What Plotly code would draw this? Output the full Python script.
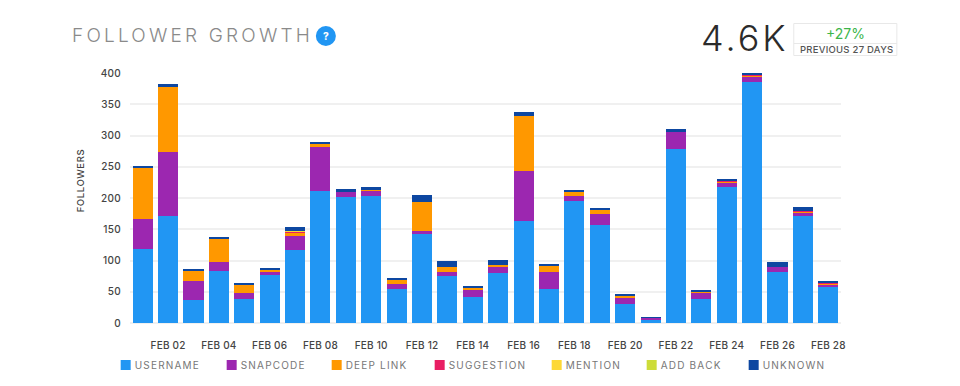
import plotly.graph_objects as go

days = [f"FEB {d:02d}" for d in range(1, 29)]
tick_labels = [f"FEB {d:02d}" for d in range(2, 29, 2)]
y_ticks = [0, 50, 100, 150, 200, 250, 300, 350, 400]

username   = [118,172,37,84,39,78,117,212,202,203,55,142,76,41,80,163,55,196,157,30,6,278,39,218,386,82,171,58]
snapcode   = [48,101,30,14,9,3,23,71,8,9,8,5,5,13,9,80,26,8,17,10,2,28,9,7,8,7,5,4]
deep_link  = [82,105,17,37,14,4,5,3,0,2,6,47,8,3,4,89,10,6,7,3,0,0,3,2,2,0,2,1]
suggestion = [0,0,0,0,0,0,1,0,0,0,0,0,0,0,0,0,0,0,0,0,0,0,0,1,1,0,1,1]
mention    = [0,0,0,0,0,0,1,0,0,0,0,0,0,0,0,0,0,0,0,0,0,0,0,0,0,0,0,1]
add_back   = [0,0,0,0,0,0,0,0,0,0,0,0,0,0,0,0,0,0,0,0,0,0,0,0,0,0,0,0]
unknown    = [2,5,3,2,2,3,6,4,4,3,2,11,11,2,8,6,4,2,2,4,1,4,2,2,3,9,7,3]

series = [
    ("USERNAME", username, "#2196F3"),
    ("SNAPCODE", snapcode, "#9C27B0"),
    ("DEEP LINK", deep_link, "#FF9800"),
    ("SUGGESTION", suggestion, "#E91E63"),
    ("MENTION", mention, "#FDD835"),
    ("ADD BACK", add_back, "#CDDC39"),
    ("UNKNOWN", unknown, "#0D47A1"),
]

W, H = 960, 386
L, R, T, B = 130.3, 840.7, 73, 323
FONT = "Inter, Lato, sans-serif"

def px(x): return (x - L) / (R - L)
def py(y): return (B - y) / (B - T)

def note(text, x, y, size, color, weight=400, **kw):
    return dict(text=text, xref="paper", yref="paper", x=px(x), y=py(y), xanchor="center", yanchor="middle",
                showarrow=False, font=dict(family=FONT, size=size, color=color, weight=weight), **kw)

fig = go.Figure()
for name, vals, color in series:
    fig.add_bar(x=days, y=vals, name=name, marker=dict(color=color, line=dict(width=0)))

fig.update_layout(
    width=W, height=H, autosize=False, barmode="stack", bargap=0.21,
    margin=dict(l=L, r=W - R, t=T, b=H - B, autoexpand=False),
    paper_bgcolor="white", plot_bgcolor="white", hovermode=False,
    font=dict(family=FONT, color="#444444", size=10),
    xaxis=dict(type="category", categoryorder="array", categoryarray=days, range=[-0.5, 27.5],
               tickmode="array", tickvals=tick_labels, ticktext=tick_labels, showgrid=False,
               showline=False, ticks="", ticklabelstandoff=15,
               tickfont=dict(family=FONT, size=10, color="#444444", weight=500)),
    yaxis=dict(range=[0, 400], tickmode="array", tickvals=y_ticks, showgrid=True, gridcolor="#F0F0F0",
               gridwidth=1.5, zeroline=True, zerolinecolor="#F0F0F0", zerolinewidth=1.5, ticks="",
               ticklabelstandoff=8, tickfont=dict(family=FONT, size=10, color="#444444", weight=500)),
    legend=dict(orientation="h", x=px(106), xanchor="left", y=py(365), yanchor="middle", traceorder="normal",
                entrywidth=60.5, entrywidthmode="pixels", itemclick=False, itemdoubleclick=False,
                font=dict(family=FONT, size=10, color="#777777"), bgcolor="rgba(0,0,0,0)"),
    shapes=[
        dict(type="circle", xref="paper", yref="paper", x0=px(316), x1=px(336), y0=py(46), y1=py(26),
             fillcolor="#2196F3", line=dict(width=0)),
        dict(type="rect", xref="paper", yref="paper", x0=px(793.5), x1=px(896.5), y0=py(55.5), y1=py(23.5),
             fillcolor="white", line=dict(width=1, color="#E8E8E8")),
        dict(type="line", xref="paper", yref="paper", x0=px(793.5), x1=px(896.5), y0=py(43.5), y1=py(43.5),
             line=dict(width=1, color="#E8E8E8")),
    ],
    annotations=[
        note("FOLLOWER GROWTH", 192.5, 35.5, 19, "#8A8A8A", 300),
        note("?", 326, 36, 10, "white", 800),
        note("4.6K", 745, 38, 36, "#2B2B2B", 300),
        note("+27%", 845, 33, 14, "#3CB54A"),
        note("PREVIOUS 27 DAYS", 846, 50, 9.5, "#555555", 500),
        note("FOLLOWERS", 80, 181, 9.5, "#444444", 500, textangle=-90),
    ],
)

post = """
document.body.style.margin = '0';
var styl = document.createElement('style');
styl.textContent = ".legendtext{letter-spacing:1.2px} .xtick text{letter-spacing:.2px} .ytick text{letter-spacing:.3px}";
document.head.appendChild(styl);
var spacing = {'FOLLOWER GROWTH':'3.2px', '4.6K':'3px', 'PREVIOUS 27 DAYS':'.25px', 'FOLLOWERS':'.6px'};
document.querySelectorAll('.annotation-text').forEach(function(t){
  if (spacing[t.textContent]) t.style.letterSpacing = spacing[t.textContent];
});
document.querySelectorAll('.legendtext').forEach(function(t){ t.setAttribute('x', '29'); });
document.querySelectorAll('.legend .legendundefined, .legend .legendbar path, .legend .legendpoints path').forEach(function(p){
  p.setAttribute('d', 'M5,5H-5V-5H5Z');
});
var swatchLeft = [120, 226, 331, 434, 551, 646, 748];
document.querySelectorAll('.legend .traces').forEach(function(g, i){
  var y = (g.getAttribute('transform').match(/,\\s*([-\\d.]+)\\)/) || [0, 0])[1];
  g.setAttribute('transform', 'translate(' + (swatchLeft[i] - 120) + ',' + y + ')');
});
"""
fig.write_html("out.html", post_script=post, config=dict(displayModeBar=False))
